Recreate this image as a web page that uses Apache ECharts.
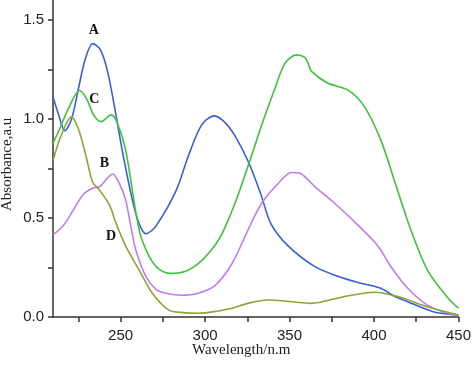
<!DOCTYPE html>
<html><head><meta charset="utf-8">
<script src="https://cdn.jsdelivr.net/npm/echarts@6/dist/echarts.min.js"></script>
<style>html,body{margin:0;padding:0;background:#fff}#c{width:474px;height:366px}</style>
</head><body><div id="c"></div>
<script>
const curveA = [[210,1.11],[213,1.03],[217,0.94],[221,1.0],[225,1.15],[229,1.3],[233.5,1.38],[238,1.35],[242,1.25],[246,1.08],[251,0.84],[257,0.59],[261,0.47],[265,0.42],[271,0.46],[283,0.64],[290,0.81],[298,0.97],[305.5,1.015],[312,0.98],[318,0.91],[326,0.776],[333,0.62],[339,0.47],[349,0.36],[365,0.254],[379,0.204],[390,0.175],[404,0.145],[411,0.11],[420,0.077],[435,0.027],[450,0.01]];
const curveB = [[210,0.414],[216,0.46],[222,0.54],[228,0.62],[233.5,0.65],[238,0.66],[242,0.7],[245.3,0.722],[249,0.68],[253,0.59],[256,0.46],[259,0.338],[265,0.204],[271,0.14],[277,0.12],[286,0.11],[296,0.12],[306,0.16],[316,0.27],[326,0.45],[333.5,0.574],[343.4,0.675],[351.2,0.729],[357,0.722],[365,0.658],[376.7,0.574],[388.5,0.48],[400.2,0.38],[404,0.338],[410,0.254],[420,0.145],[431.6,0.06],[443.4,0.019],[450,0.01]];
const curveC = [[210,0.877],[214,0.95],[219,1.05],[225.7,1.143],[230,1.1],[234,1.02],[238.5,0.986],[244.4,1.02],[248,0.98],[253,0.843],[261,0.44],[267,0.305],[273,0.24],[279.6,0.22],[288,0.23],[296,0.27],[303,0.33],[310,0.42],[318,0.58],[326,0.776],[334,0.98],[341.4,1.155],[347.3,1.28],[354,1.323],[359,1.31],[361,1.28],[363,1.24],[372.8,1.18],[384.5,1.146],[394.3,1.062],[404,0.894],[412,0.69],[421.8,0.44],[431.6,0.237],[443.4,0.10],[450,0.044]];
const curveD = [[210,0.79],[215,0.92],[220.8,1.01],[225,0.95],[229.6,0.81],[233.5,0.68],[237.5,0.64],[243.4,0.566],[247.3,0.473],[253.2,0.355],[261,0.237],[268.8,0.12],[278.6,0.035],[287,0.022],[296.3,0.019],[306,0.028],[316,0.044],[325.7,0.07],[337.5,0.086],[350,0.078],[363,0.069],[380.6,0.10],[400.2,0.125],[414,0.103],[431.6,0.052],[450,0.01]];
const seriesNames = ['A','B','C','D'];
const seriesColors = ['#3a5ee0','#c27cf2','#3dc43a','#8aa632'];
const labelPos = [[234.1,1.446],[240.4,0.773],[234.5,1.10],[244.4,0.409]];
const xTicks = [225,250,275,300,325,350,375,400,425,450];
const xLabels = [250,300,350,400,450];
const yTicks = [0,0.25,0.5,0.75,1,1.25,1.5];
const yLabels = [0,0.5,1,1.5];
const xTitle = 'Wavelength/n.m';
const yTitle = 'Absorbance,a.u';

const datasets = [curveA, curveB, curveC, curveD];
const chart = echarts.init(document.getElementById('c'));
const axisCol = '#3a3030';
chart.setOption({
  animation: false,
  grid: {left: 53, right: 13, top: 0, bottom: 49},
  xAxis: {type: 'value', min: 210, max: 450,
    axisLine: {lineStyle: {color: axisCol, width: 1.5}},
    axisTick: {show: true, length: 5, customValues: xTicks, lineStyle: {color: axisCol, width: 1.5}},
    axisLabel: {customValues: xLabels, color: '#222', fontFamily: 'Liberation Sans', fontSize: 15, margin: 11},
    splitLine: {show: false}},
  yAxis: {type: 'value', min: 0, max: 1.6,
    axisLine: {show: true, lineStyle: {color: axisCol, width: 1.5}},
    axisTick: {show: true, length: 5, customValues: yTicks, lineStyle: {color: axisCol, width: 1.5}},
    axisLabel: {customValues: yLabels, formatter: v => v.toFixed(1), color: '#222', fontFamily: 'Liberation Sans', fontSize: 15, margin: 9},
    splitLine: {show: false}},
  graphic: [
    {type: 'text', x: 192, y: 343, style: {text: xTitle, font: '15px "Liberation Serif"', fill: '#222'}},
    {type: 'text', x: 0, y: 211, rotation: Math.PI/2, style: {text: yTitle, font: '15px "Liberation Serif"', fill: '#222'}}
  ],
  series: datasets.map((d, i) => ({
    name: seriesNames[i], type: 'line', data: d, smooth: 0.3, showSymbol: false,
    lineStyle: {color: seriesColors[i], width: 1.6}, itemStyle: {color: seriesColors[i]},
    markPoint: {symbolSize: 0, data: [{coord: labelPos[i], value: seriesNames[i]}],
      label: {show: true, position: 'inside', formatter: seriesNames[i], color: '#111', fontFamily: 'Liberation Serif', fontWeight: 'bold', fontSize: 14}}
  }))
});
</script></body></html>
